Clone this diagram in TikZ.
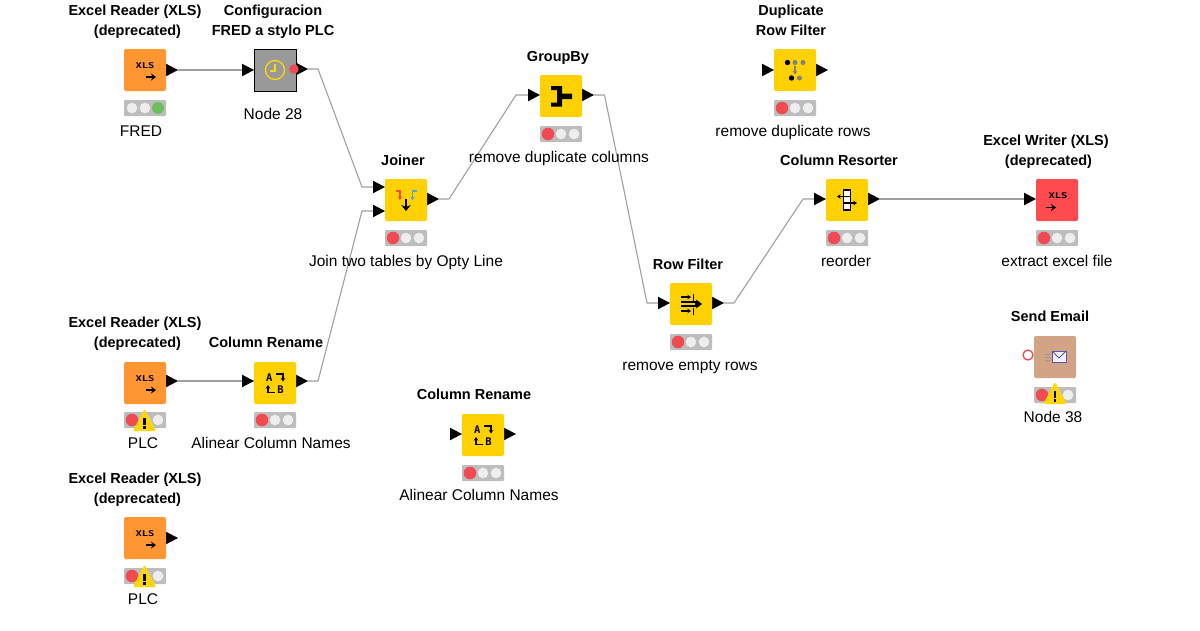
\documentclass[tikz,border=0pt]{standalone}
\usepackage{fontspec}
\setmainfont{Liberation Sans}
\newfontfamily\iconfont{DejaVu Sans Mono}
\usetikzlibrary{calc,arrows.meta}
\definecolor{kwire}{HTML}{A0A0A0}
\definecolor{kyellow}{HTML}{FFD100}
\definecolor{korange}{HTML}{FF9632}
\definecolor{kcoral}{HTML}{FF4B4F}
\definecolor{ktan}{HTML}{D2A384}
\definecolor{kgrey}{HTML}{999999}
\definecolor{klight}{HTML}{BDBDBD}
\definecolor{koff}{HTML}{EEEEEE}
\definecolor{kred}{HTML}{F04B52}
\definecolor{kgreen}{HTML}{6CBE5E}
\definecolor{kwarn}{HTML}{FFD60A}
\definecolor{kblue}{HTML}{4FA8D0}
\tikzset{
  box/.style={minimum size=42pt,inner sep=0pt,rounded corners=2pt,draw=none},
  title/.style={font=\fontsize{14.5}{20}\selectfont\bfseries,inner sep=0pt,align=center,anchor=center},
  stitle/.style={font=\fontsize{14.5}{20}\selectfont\bfseries,inner sep=0pt,anchor=base},
  caption/.style={font=\fontsize{15.5}{20}\selectfont,inner sep=0pt,anchor=base},
  wire/.style={draw=kwire,line width=1.1pt,line join=round},
  tipsmall/.style={-{Stealth[length=3.5pt,width=4.5pt]}}
}
\newcommand{\kport}[3]{\fill (#2,#3-6.3) -- (#2+12,#3) -- (#2,#3+6.3) -- cycle; \coordinate (#1) at (#2+12,#3);}
\newcommand{\kinport}[3]{\fill (#2-12,#3-6.3) -- (#2,#3) -- (#2-12,#3+6.3) -- cycle; \coordinate (#1) at (#2-12,#3);}
\newcommand{\klightred}[3]{%
  \node[minimum width=42pt,minimum height=16pt,inner sep=0pt,fill=klight,rounded corners=1pt] (#1) at (#2,#3+8) {};
  \fill[kred] (#2-13,#3+8) circle (6.3);
  \fill[koff] (#2,#3+8) circle (5.3);
  \fill[koff] (#2+13,#3+8) circle (5.3);}
\newcommand{\klightgreen}[3]{%
  \node[minimum width=42pt,minimum height=16pt,inner sep=0pt,fill=klight,rounded corners=1pt] (#1) at (#2,#3+8) {};
  \fill[koff] (#2-13,#3+8) circle (5.3);
  \fill[koff] (#2,#3+8) circle (5.3);
  \fill[kgreen] (#2+13,#3+8) circle (6);}
\newcommand{\kwarning}[2]{%
  \fill[kwarn,draw=kwarn,line width=2pt,line join=round] (#1,#2+1) -- (#1+10,#2+20) -- (#1-10,#2+20) -- cycle;
  \fill[black] (#1-1.2,#2+7.5) rectangle (#1+1.2,#2+14.5);
  \fill[black] (#1-1.2,#2+16) rectangle (#1+1.2,#2+18.5);}
\newcommand{\kxls}[6]{%
  \node[font=\iconfont\bfseries\fontsize{8}{8}\selectfont,inner sep=0pt,xscale=1.3] at (#1+#3,#2+#4) {XLS};
  \draw[line width=1.8pt,-{Stealth[length=5pt,width=7pt]}] (#1+#5,#2+#6) -- ++(10,0);}
\newcommand{\krename}[2]{%
  \node[font=\iconfont\bfseries\fontsize{10.5}{10.5}\selectfont,inner sep=0pt] at (#1-5.7,#2-5) {A};
  \node[font=\iconfont\bfseries\fontsize{10.5}{10.5}\selectfont,inner sep=0pt] at (#1+5.5,#2+6.3) {B};
  \draw[line width=1.3pt,tipsmall] (#1+1,#2-9) -- (#1+8,#2-9) -- (#1+8,#2-1.5);
  \draw[line width=1.3pt,tipsmall] (#1,#2+9.5) -- (#1-7,#2+9.5) -- (#1-7,#2+2);}
\begin{document}
\begin{tikzpicture}[x=1pt,y=-1pt]
\useasboundingbox (0,0) rectangle (1200,630);
\fill[white] (0,0) rectangle (1200,630);

\kport{r1o}{166}{70}
\kinport{c1i}{254}{70}
\kport{c1o}{296}{69}
\kinport{j1}{385}{187}
\kinport{j2}{385}{211}
\kport{jo}{427}{199}
\kinport{gi}{540}{95}
\kport{go}{582}{95}
\kinport{ri}{670}{303}
\kport{ro}{712}{303}
\kinport{si}{826}{199}
\kport{so}{868}{199}
\kinport{wi}{1036}{199}
\kport{r2o}{166}{381}
\kinport{n1i}{254}{381}
\kport{n1o}{296}{381}

\draw[wire] (r1o) -- (c1i);
\draw[wire] (c1o) -- ++(10,0) -- ($(j1)+(-11,0)$) -- (j1);
\draw[wire] (r2o) -- (n1i);
\draw[wire] (n1o) -- ++(10,0) -- ($(j2)+(-11,0)$) -- (j2);
\draw[wire] (jo) -- ++(10,0) -- ($(gi)+(-12,0)$) -- (gi);
\draw[wire] (go) -- ++(10.5,0) -- ($(ri)+(-11,0)$) -- (ri);
\draw[wire] (ro) -- ++(10,0) -- ($(si)+(-11,0)$) -- (si);
\draw[wire] (so) -- (wi);

\kinport{di}{774}{70}
\kport{do}{816}{70}
\kinport{n2i}{462}{434}
\kport{n2o}{504}{434}
\kport{r3o}{166}{538}

\node[box,fill=korange] (r1) at (145,70) {};
\node[minimum size=42pt,inner sep=0pt,fill=kgrey,draw=black,line width=1pt] (c1) at (275,70) {};
\node[box,fill=kyellow] (join) at (406,200) {};
\node[box,fill=kyellow] (grp) at (561,96) {};
\node[box,fill=kyellow] (dup) at (795,70) {};
\node[box,fill=kyellow] (rowf) at (691,304) {};
\node[box,fill=kyellow] (sort) at (847,200) {};
\node[box,fill=kcoral] (wr) at (1057,200) {};
\node[box,fill=ktan] (mail) at (1055,357) {};
\node[box,fill=korange] (r2) at (145,383) {};
\node[box,fill=kyellow] (n1) at (275,383) {};
\node[box,fill=kyellow] (n2) at (483,435) {};
\node[box,fill=korange] (r3) at (145,538) {};

\kxls{145}{70}{0}{-4}{1}{7}
\kxls{145}{383}{0}{-4}{1}{7}
\kxls{145}{538}{0}{-4}{1}{7}
\kxls{1057}{200}{1}{-4}{-11}{7.5}
\krename{275}{383}
\krename{483}{435}
% clock
\draw[kwarn,line width=1.3pt] (275,70) circle (9.5);
\draw[kwarn,line width=1.2pt] (275,64) -- (275,71) -- (269.5,71);
\fill[kred] (294,69) circle (4.7);
% joiner
\draw[draw=kred,line width=1.2pt,tipsmall] (396,191) -- (400,191) -- (400,200);
\draw[draw=kblue,line width=1.2pt,tipsmall] (416.5,191) -- (412.5,191) -- (412.5,200);
\draw[line width=1.8pt,-{Stealth[length=6pt,width=9.5pt]}] (406,199) -- (406,211);
% groupby
\fill (551,86) -- (562,86) -- (562,93.5) -- (572,93.5) -- (572,99) -- (562,99) -- (562,106.5) -- (551,106.5) -- (551,102.5) -- (557,102.5) -- (557,90) -- (551,90) -- cycle;
% duplicate filter
\fill (787.5,62.5) circle (2.7) (791.5,78) circle (2.7);
\fill[gray] (795,62.5) circle (2.5) (803,62.5) circle (2.5) (799.5,78) circle (2.5);
\draw[gray,line width=1.3pt,tipsmall] (795,66) -- (795,74.5);
% row filter
\draw[line width=1.1pt,tipsmall] (681,297) -- (691,297);
\draw[line width=1.1pt] (693.5,293.5) -- (693.5,300.5);
\draw[line width=1.1pt,tipsmall] (681,311) -- (691,311);
\draw[line width=1.1pt] (693.5,307.5) -- (693.5,314.5);
\draw[line width=1.2pt] (681,302) -- (697,302) (681,306) -- (697,306);
\draw[line width=1.2pt,-{Stealth[length=6pt,width=9pt]}] (695,304) -- (702,304);
% resorter
\draw[fill=white,line width=1.1pt] (843.3,190) rectangle (850.7,210);
\draw[line width=.9pt] (843.3,196.5) -- (850.7,196.5) (843.3,203) -- (850.7,203);
\draw[line width=1.1pt,tipsmall] (850.7,196.5) -- (837,196.5);
\draw[line width=1.1pt,tipsmall] (843.3,203) -- (857,203);
% mail
\draw[fill=white,line width=1.3pt,draw=kred] (1028,355) circle (5);
\fill[gray!80] (1045,354) rectangle (1050,355) (1045,357) rectangle (1050,358) (1045,360) rectangle (1050,361);
\draw[fill=blue!6,draw=blue!30!gray,line width=1pt] (1052,351) rectangle (1066,362);
\draw[draw=blue!30!gray,line width=.8pt] (1052,351) -- (1059,358) -- (1066,351);

\klightgreen{l1}{145}{100}
\klightred{l2}{275}{412}
\klightred{l3}{145}{412}
\klightred{l4}{145}{568}
\klightred{l5}{406}{230}
\klightred{l6}{561}{126}
\klightred{l7}{795}{100}
\klightred{l8}{691}{334}
\klightred{l9}{847}{230}
\klightred{l10}{1057}{230}
\klightred{l11}{1055}{387}
\klightred{l12}{483}{465}
\kwarning{144.5}{410}
\kwarning{144.5}{566}
\kwarning{1055}{383}

\node[title] (t1) at (135,22) {Excel Reader (XLS)\\\hspace*{5pt}(deprecated)};
\node[title] (t2) at (273,22) {Configuracion\\FRED a stylo PLC};
\node[stitle] (t3) at (403,165) {Joiner};
\node[stitle] (t4) at (558,61) {GroupBy};
\node[title] (t5) at (791,20.5) {Duplicate\\Row Filter};
\node[stitle] (t6) at (688,269) {Row Filter};
\node[stitle] (t7) at (839,165) {Column Resorter};
\node[title] (t8) at (1046,152) {Excel Writer (XLS)\\\hspace*{5pt}(deprecated)};
\node[stitle] (t9) at (1050,321) {Send Email};
\node[title] (t10) at (135,334) {Excel Reader (XLS)\\\hspace*{5pt}(deprecated)};
\node[stitle] (t11) at (266,347) {Column Rename};
\node[stitle] (t12) at (474,399) {Column Rename};
\node[title] (t13) at (135,490) {Excel Reader (XLS)\\\hspace*{5pt}(deprecated)};

\node[caption] (c-a) at (141,136.5) {FRED};
\node[caption] (c-b) at (273,119.5) {Node 28};
\node[caption] (c-c) at (406,266.5) {Join two tables by Opty Line};
\node[caption] (c-d) at (559,162.5) {remove duplicate columns};
\node[caption] (c-e) at (793,136.5) {remove duplicate rows};
\node[caption] (c-f) at (690,370.5) {remove empty rows};
\node[caption] (c-g) at (846,266.5) {reorder};
\node[caption] (c-h) at (1057,266.5) {extract excel file};
\node[caption] (c-i) at (1053,422.5) {Node 38};
\node[caption] (c-j) at (143,448.5) {PLC};
\node[caption] (c-k) at (271,448.5) {Alinear Column Names};
\node[caption] (c-l) at (479,500.5) {Alinear Column Names};
\node[caption] (c-m) at (143,604.5) {PLC};
\end{tikzpicture}
\end{document}
